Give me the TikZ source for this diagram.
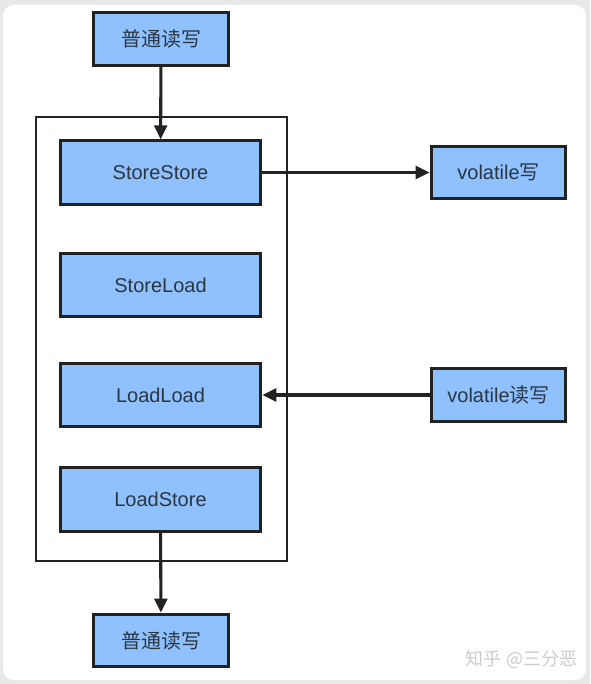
\documentclass[tikz,border=0pt]{standalone}
\usepackage{fontspec}
\setmainfont{Liberation Sans}
\newfontfamily\cjk{Noto Sans CJK SC}
\usetikzlibrary{arrows.meta}
\definecolor{boxblue}{HTML}{8FC1FF}
\definecolor{boxtext}{HTML}{2B3642}
\definecolor{rahmen}{HTML}{222222}
\tikzset{
    barriere/.style={draw=rahmen, line width=2.2pt, fill=boxblue, text=boxtext,
        minimum width=150.5pt, minimum height=47.5pt, font=\fontsize{15}{17}\selectfont},
    zugriff/.style={barriere, minimum width=101pt, minimum height=39.5pt},
    pfeil/.style={draw=rahmen, line width=2.3pt, -{Triangle[length=10.5pt,width=9.5pt]}}
}
\begin{document}
\begin{tikzpicture}[x=0.75pt, y=-0.75pt]
    % Hintergrund
    \fill[gray!17] (0,0) rectangle (590,684);
    \fill[white, rounded corners=8pt] (3,5) rectangle (586,680);
    \useasboundingbox (0,0) rectangle (590,684);
    % Rahmen
    \draw[rahmen, line width=2.2pt] (36,117) rectangle (287,561);
    % Knoten
    \node[zugriff]  (oben)   at (161,39)  {\cjk 普通读写};
    \node[barriere] (ss)     at (160.5,172.5) {StoreStore};
    \node[barriere] (sl)     at (160.5,285) {StoreLoad};
    \node[barriere] (ll)     at (160.5,395) {LoadLoad};
    \node[barriere] (ls)     at (160.5,499.5) {LoadStore};
    \node[zugriff]  (unten)  at (161,640.5) {\cjk 普通读写};
    \node[zugriff]  (vschr)  at (498.5,172.5) {volatile{\cjk 写}};
    \node[zugriff]  (vlese)  at (498.5,395) {volatile{\cjk 读写}};
    % Pfeile
    \draw[pfeil] (oben) -- (ss);
    \draw[pfeil] (ls) -- (unten);
    \draw[pfeil] (ss) -- (vschr);
    \draw[pfeil] (vlese) -- (ll);
    % Wasserzeichen
    \node[text=gray!40, font=\cjk\fontsize{13.5}{15}\selectfont] (marke) at (521.5,659) {知乎 @三分恶};
\end{tikzpicture}
\end{document}
